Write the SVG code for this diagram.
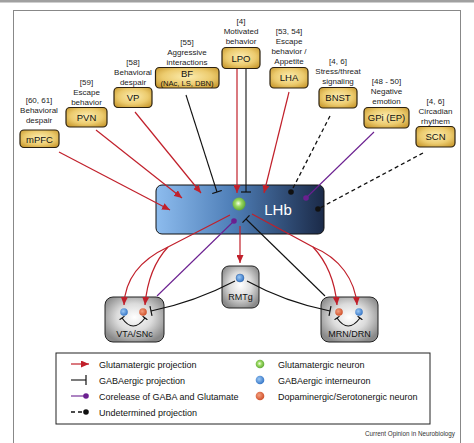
<svg xmlns="http://www.w3.org/2000/svg" width="474" height="443" viewBox="0 0 474 443">
<defs>
<style>
.lbl{font-family:"Liberation Sans",Arial,sans-serif;font-size:8px;fill:#222;text-anchor:middle}
.bx{font-family:"Liberation Sans",Arial,sans-serif;font-size:9.5px;fill:#111;text-anchor:middle}
.gold{fill:url(#gGold);stroke:#2a2010;stroke-width:1.2}
.gray{fill:url(#gGray);stroke:#222;stroke-width:1}
.leg{font-family:"Liberation Sans",Arial,sans-serif;font-size:9px;fill:#111}
.glu{fill:none;stroke:#c1202b;stroke-width:1.2}
.gaba{fill:none;stroke:#111;stroke-width:1.1}
.co{fill:none;stroke:#6b2090;stroke-width:1.1}
.und{fill:none;stroke:#111;stroke-width:1.3;stroke-dasharray:4 3}
</style>
<radialGradient id="gGold" cx="50%" cy="45%" r="65%">
<stop offset="0" stop-color="#fcedb0"/><stop offset="0.6" stop-color="#eccb6e"/><stop offset="1" stop-color="#c99a30"/>
</radialGradient>
<radialGradient id="gGray" cx="50%" cy="45%" r="60%">
<stop offset="0" stop-color="#ffffff"/><stop offset="0.5" stop-color="#dcdcdc"/><stop offset="1" stop-color="#8a8a8a"/>
</radialGradient>
<linearGradient id="gLHb" x1="0" y1="0" x2="1" y2="0">
<stop offset="0" stop-color="#8dbcee"/><stop offset="0.45" stop-color="#4f7fb8"/><stop offset="1" stop-color="#1b2a48"/>
</linearGradient>
<radialGradient id="gGreen" cx="45%" cy="45%" r="55%">
<stop offset="0" stop-color="#f4ffe8"/><stop offset="0.45" stop-color="#9ad860"/><stop offset="1" stop-color="#5fa838"/>
</radialGradient>
<radialGradient id="gBlue" cx="40%" cy="40%" r="60%">
<stop offset="0" stop-color="#9cc8f4"/><stop offset="1" stop-color="#3878c8"/>
</radialGradient>
<radialGradient id="gOrange" cx="40%" cy="40%" r="60%">
<stop offset="0" stop-color="#f4a080"/><stop offset="1" stop-color="#d0522c"/>
</radialGradient>
<marker id="arr" viewBox="0 0 8 7" refX="8" refY="3.5" markerWidth="8" markerHeight="7" markerUnits="userSpaceOnUse" orient="auto">
<path d="M0,0 L8,3.5 L0,7 z" fill="#c1202b"/>
</marker>
<marker id="tee" viewBox="-1 -5 2 10" refX="0" refY="0" markerWidth="2" markerHeight="10" markerUnits="userSpaceOnUse" orient="auto">
<path d="M0,-5 L0,5" stroke="#111" stroke-width="1.2"/>
</marker>
<marker id="teeS" viewBox="-1 -3 2 6" refX="0" refY="0" markerWidth="2" markerHeight="6" markerUnits="userSpaceOnUse" orient="auto">
<path d="M0,-3 L0,3" stroke="#111" stroke-width="1.2"/>
</marker>
<marker id="dotK" viewBox="-3 -3 6 6" refX="0" refY="0" markerWidth="6" markerHeight="6" markerUnits="userSpaceOnUse">
<circle r="2.8" fill="#111"/>
</marker>
<marker id="dotP" viewBox="-3 -3 6 6" refX="0" refY="0" markerWidth="6" markerHeight="6" markerUnits="userSpaceOnUse">
<circle r="2.8" fill="#6b2090"/>
</marker>
</defs>
<rect x="0" y="0" width="474" height="443" fill="#fff"/>
<rect x="0" y="0" width="474" height="2.5" fill="#a0a0a0"/>
<rect x="13.5" y="10.5" width="447" height="445" fill="#fff" stroke="#888" stroke-width="1"/>

<g id="mPFC"><text class="lbl" x="39" y="103">[60, 61]</text><text class="lbl" x="39" y="113">Behavioral</text><text class="lbl" x="39" y="123">despair</text>
<rect class="gold" x="20" y="130" width="39" height="17.5" rx="4"/><text class="bx" x="39.5" y="142.5">mPFC</text></g>
<g id="PVN"><text class="lbl" x="86.5" y="85">[59]</text><text class="lbl" x="86.5" y="95">Escape</text><text class="lbl" x="86.5" y="105">behavior</text>
<rect class="gold" x="66" y="107.5" width="41" height="19.5" rx="4"/><text class="bx" x="86.5" y="121">PVN</text></g>
<g id="VP"><text class="lbl" x="133" y="65">[58]</text><text class="lbl" x="133" y="75">Behavioral</text><text class="lbl" x="133" y="85">despair</text>
<rect class="gold" x="114" y="87.5" width="38" height="20" rx="4"/><text class="bx" x="133" y="101">VP</text></g>
<g id="BF"><text class="lbl" x="187" y="45">[55]</text><text class="lbl" x="187" y="55">Aggressive</text><text class="lbl" x="187" y="65">interactions</text>
<rect class="gold" x="155.5" y="67.5" width="63.5" height="20.5" rx="4"/><text class="bx" x="187" y="76.5">BF</text><text class="bx" x="187" y="85.5" style="font-size:7.6px">(NAc, LS, DBN)</text></g>
<g id="LPO"><text class="lbl" x="241" y="24">[4]</text><text class="lbl" x="241" y="34">Motivated</text><text class="lbl" x="241" y="44">behavior</text>
<rect class="gold" x="222" y="47.5" width="38" height="21" rx="4"/><text class="bx" x="241" y="61.5">LPO</text></g>
<g id="LHA"><text class="lbl" x="289" y="34">[53, 54]</text><text class="lbl" x="289" y="44">Escape</text><text class="lbl" x="289" y="54">behavior /</text><text class="lbl" x="289" y="64">Appetite</text>
<rect class="gold" x="270" y="67.5" width="38" height="20.5" rx="4"/><text class="bx" x="289" y="81">LHA</text></g>
<g id="BNST"><text class="lbl" x="338" y="64">[4, 6]</text><text class="lbl" x="338" y="74">Stress/threat</text><text class="lbl" x="338" y="84">signaling</text>
<rect class="gold" x="319" y="87.5" width="38" height="20.5" rx="4"/><text class="bx" x="338" y="101">BNST</text></g>
<g id="GPi"><text class="lbl" x="386.5" y="84">[48 - 50]</text><text class="lbl" x="386.5" y="94">Negative</text><text class="lbl" x="386.5" y="104">emotion</text>
<rect class="gold" x="364" y="107.5" width="45" height="20.5" rx="4"/><text class="bx" x="386.5" y="121">GPi (EP)</text></g>
<g id="SCN"><text class="lbl" x="435.5" y="104">[4, 6]</text><text class="lbl" x="435.5" y="114">Circadian</text><text class="lbl" x="435.5" y="124">rhythem</text>
<rect class="gold" x="416" y="126.5" width="39" height="20.5" rx="4"/><text class="bx" x="435.5" y="140">SCN</text></g>

<g id="LHb">
<rect x="156" y="185" width="168" height="49" rx="6" fill="url(#gLHb)" stroke="#111" stroke-width="1"/>
<circle cx="239" cy="204" r="6.5" fill="url(#gGreen)"/>
<text x="278" y="215" style="font-family:'Liberation Sans',Arial,sans-serif;font-size:15px;fill:#fff;text-anchor:middle">LHb</text>
</g>
<g id="RMTg">
<rect class="gray" x="222" y="266" width="37" height="42" rx="7"/>
<circle cx="240" cy="278" r="4" fill="url(#gBlue)" stroke="#2a5a9a" stroke-width="0.4"/>
<text class="bx" x="240.5" y="300" style="font-size:9px">RMTg</text>
</g>
<g id="VTA">
<rect class="gray" x="105" y="297" width="59" height="45" rx="8"/>
<circle cx="124" cy="312" r="3.8" fill="url(#gBlue)"/>
<circle cx="143" cy="312" r="3.8" fill="url(#gOrange)"/>
<path class="gaba" d="M122,318 Q133,334 145,318" stroke-width="1.3" marker-start="url(#teeS)" marker-end="url(#teeS)"/>
<text class="bx" x="134.5" y="337" style="font-size:9px">VTA/SNc</text>
</g>
<g id="MRN">
<rect class="gray" x="321" y="297" width="57" height="45" rx="8"/>
<circle cx="339" cy="312" r="3.8" fill="url(#gOrange)"/>
<circle cx="359" cy="312" r="3.8" fill="url(#gBlue)"/>
<path class="gaba" d="M337,318 Q348,334 360,318" stroke-width="1.3" marker-start="url(#teeS)" marker-end="url(#teeS)"/>
<text class="bx" x="349.5" y="337" style="font-size:9px">MRN/DRN</text>
</g>

<g id="connectors">
<path class="glu" d="M59,152 L170,210" marker-end="url(#arr)"/>
<path class="glu" d="M96,130 L182,198" marker-end="url(#arr)"/>
<path class="glu" d="M135,112 L201,193" marker-end="url(#arr)"/>
<path class="gaba" d="M186,95 L217,192" marker-end="url(#tee)"/>
<path class="glu" d="M237,69 L237,193" marker-end="url(#arr)"/>
<path class="gaba" d="M246,69 L246,192" marker-end="url(#tee)"/>
<path class="glu" d="M289,92 L264,193" marker-end="url(#arr)"/>
<path class="und" d="M330,116 L291,192" marker-end="url(#dotK)"/>
<path class="co" d="M374,132 L306,198" marker-end="url(#dotP)"/>
<path class="und" d="M423,153 L318,209" marker-end="url(#dotK)"/>
<path class="glu" d="M240,226 L240,263" marker-end="url(#arr)"/>
<path class="glu" d="M230,215 L168,247 C140,260 125,280 124,305" marker-end="url(#arr)"/>
<path class="glu" d="M168,247 C154,262 147,282 145,305" marker-end="url(#arr)"/>
<path class="glu" d="M252,214 L313,247 C327,262 335,282 337,305" marker-end="url(#arr)"/>
<path class="glu" d="M313,247 C340,258 355,280 357,305" marker-end="url(#arr)"/>
<path class="co" d="M157,296 L234,221" marker-end="url(#dotP)"/>
<path class="gaba" d="M325,296 L246,219" marker-end="url(#tee)"/>
<path class="gaba" d="M235,281 Q195,302 151,311" marker-end="url(#tee)"/>
<path class="gaba" d="M247,281 Q285,302 330,311" marker-end="url(#tee)"/>
</g>

<g id="legend">
<rect x="56" y="353" width="374" height="71" fill="#fff" stroke="#222" stroke-width="1"/>
<path class="glu" d="M71,364 L89,364" marker-end="url(#arr)"/>
<path class="gaba" d="M71,380 L86,380" marker-end="url(#tee)"/>
<path class="co" d="M71,396 L86,396" marker-end="url(#dotP)"/>
<path class="und" d="M71,412 L86,412" stroke-dasharray="3 3" marker-end="url(#dotK)"/>
<text class="leg" x="99" y="367.5">Glutamatergic projection</text>
<text class="leg" x="99" y="383.5">GABAergic projection</text>
<text class="leg" x="99" y="399.5">Corelease of GABA and Glutamate</text>
<text class="leg" x="99" y="415.5">Undetermined projection</text>
<circle cx="260" cy="364" r="4.3" fill="url(#gGreen)"/>
<circle cx="260" cy="380" r="4.3" fill="url(#gBlue)"/>
<circle cx="260" cy="396" r="4.3" fill="url(#gOrange)"/>
<text class="leg" x="278" y="367.5">Glutamatergic neuron</text>
<text class="leg" x="278" y="384">GABAergic interneuron</text>
<text class="leg" x="278" y="400">Dopaminergic/Serotonergic neuron</text>
</g>
<text x="455" y="436" style="font-family:'Liberation Sans',Arial,sans-serif;font-size:6.3px;fill:#333;text-anchor:end">Current Opinion in Neurobiology</text>
</svg>
